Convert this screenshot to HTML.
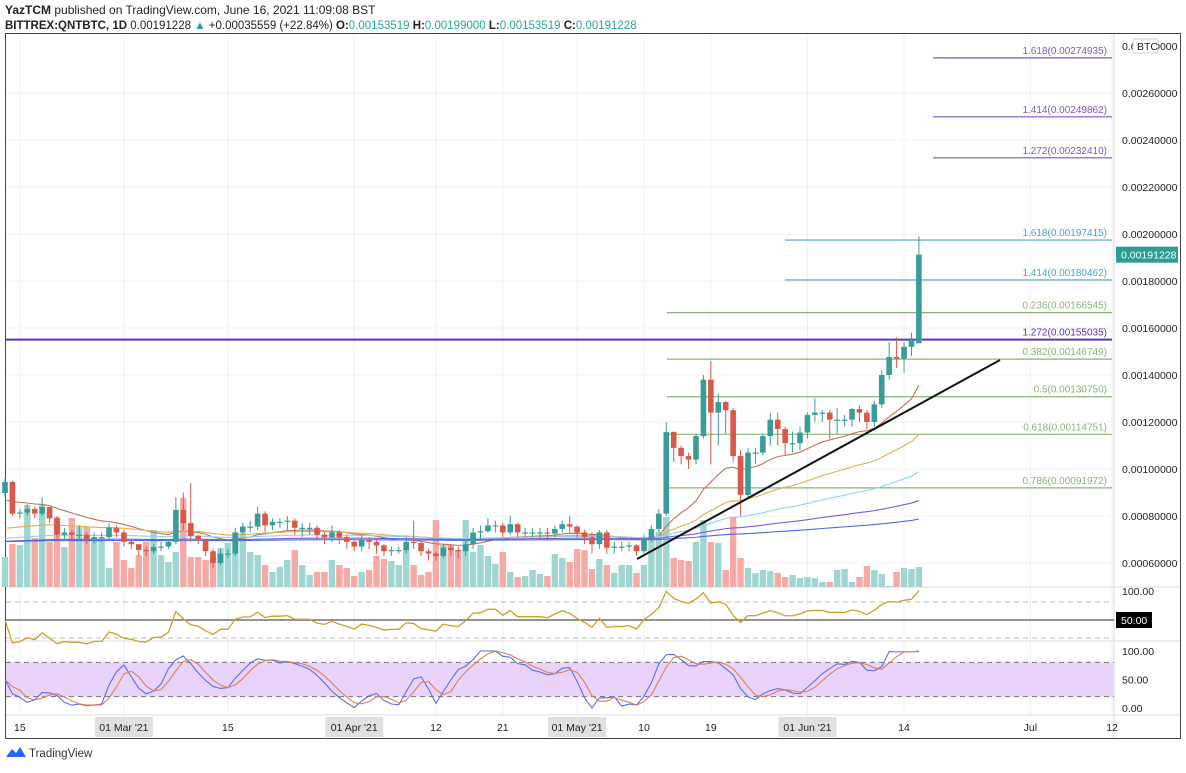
<!DOCTYPE html>
<html><head><meta charset="utf-8">
<style>
body{margin:0;background:#fff;width:1186px;height:768px;overflow:hidden;font-family:"Liberation Sans",sans-serif}
svg text{font-family:"Liberation Sans",sans-serif}
</style></head>
<body>
<svg id="chart" width="1186" height="768" xmlns="http://www.w3.org/2000/svg">
<rect width="1186" height="768" fill="#fff"/>
<text x="5" y="14" font-size="12" fill="#222"><tspan font-weight="bold">YazTCM</tspan> published on TradingView.com, June 16, 2021 11:09:08 BST</text>
<text x="5" y="29" font-size="11.5" fill="#222"><tspan font-weight="bold">BITTREX:QNTBTC, 1D</tspan> 0.00191228 <tspan fill="#26a69a">▲</tspan> +0.00035559 (+22.84%) <tspan font-weight="bold">O:</tspan><tspan fill="#26a69a">0.00153519</tspan> <tspan font-weight="bold">H:</tspan><tspan fill="#26a69a">0.00199000</tspan> <tspan font-weight="bold">L:</tspan><tspan fill="#26a69a">0.00153519</tspan> <tspan font-weight="bold">C:</tspan><tspan fill="#26a69a">0.00191228</tspan></text>
<rect x="5.5" y="33.5" width="1175" height="705" fill="none" stroke="#444" stroke-width="1"/>
<g id="grid"></g>
<g id="vol"></g>
<g id="fibs"></g>
<g id="mas"></g>
<g id="candles"></g>
<g id="ind"></g>
<g id="axes"></g>
<g>
<path d="M6 757 L12 749 L16 753 L20 747 L26 757 Z" fill="#2962ff"/>
<text x="29" y="757" font-size="11.5" fill="#333">TradingView</text>
</g>
</svg>
<script>
// price values in 1e-5 BTC
const closes=[94.5,81,81.5,83,81,83.8,79,72,73,72,72,70,71,71,75,73,69,68,65.5,65,66.8,67,69,82.6,77,71.5,70,65,60,64,64,73,75.5,75.5,81,76,77.5,77.5,78,75,75,75,72,71,73,71,69,67,70,69,67.5,65,65.5,65.5,69,68.5,65,64,63,66.5,65.5,65,68,73,73.5,76,76,73,76.5,73,73,73,73,72.5,74.5,76.5,75.5,73,71,68,73,66.5,67,67,67.5,65,70.5,74.5,81,115.7,109,105.5,104,114,138,124,128.5,125,105.5,89,107,107,114,121,117,111,111,115.5,123,124,124,121,121,121,125.5,124,120,127.5,140,147.7,147,152,155,191.2];
const firstOpen=89.8;
const lastOpen=153.5;
const highs=[96,95,83,85,84,88,84,80,75,74,76,73,73,73,77,76,74,70,68,67,68,69,70,88,90,94,72,70,66,66,66,75,77,78,84,82,79,79,80,79,77,77,76,73,76,74,72,70,72,71,70,68,67,67,71,78,69,66,65,68,68,67,70,75,76,79,78,77,80,77,75,75,75,75,76,78,80,76,74,73,74,74,69,69,69,68,72,76,83,120,116,110,107,115,140,146,132,129,126,108,109,109,115,124,124,118,116,118,124,130,125,125,126,123,126,127,125,129,142,154,156,154,158,199];
const lows=[88,80,79,80,79,80,77,70,70,70,70,68,68,69,70,71,67,66,63,63,64,65,66,68,74,69,68,63,58,59,62,63,72,73,74,73,74,75,74,72,71,72,70,68,69,68,66,65,65,66,64,63,63,64,64,66,63,61,61,62,63,62,63,66,70,73,73,71,72,71,71,71,70,70,71,73,73,71,68,64,66,64,64,65,65,63,64,69,73,80,103,102,100,102,113,102,110,115,103,80,88,102,106,110,110,106,107,108,113,120,120,113,115,118,118,120,117,118,126,138,143,141,148,153.5];
const volumes=[30,43,42,82,49,82,45,70,40,69,60,60,47,47,19,45,27,19,32,45,57,32,25,35,89,30,30,27,29,39,44,54,54,35,32,22,15,20,27,37,22,12,15,15,27,22,19,11,15,17,31,28,26,22,39,22,12,15,67,42,42,37,67,35,42,31,23,35,15,10,11,17,13,11,33,29,25,38,37,18,28,22,14,22,22,14,22,49,55,70,29,27,26,45,67,45,44,17,70,29,19,14,17,16,14,10,12,9,10,9,5,5,17,18,5,10,21,17,13,1,15,19,18,20];
const priceTicks=[260,240,220,200,180,160,140,120,100,80,60];
const priceTickLabels=["0.00260000","0.00240000","0.00220000","0.00200000","0.00180000","0.00160000","0.00140000","0.00120000","0.00100000","0.00080000","0.00060000"];
const dateTickDays=[-14,0,14,31,42,51,61,70,79,92,105,122,133];
const dateTickLabels=["15","01 Mar '21","15","01 Apr '21","12","21","01 May '21","10","19","01 Jun '21","14","Jul","12"];
const fibLevels=[274.935,249.862,232.410,197.415,180.462,166.545,146.749,130.750,114.751,91.972];
const fibLabels=["1.618(0.00274935)","1.414(0.00249862)","1.272(0.00232410)","1.618(0.00197415)","1.414(0.00180462)","0.236(0.00166545)","0.382(0.00146749)","0.5(0.00130750)","0.618(0.00114751)","0.786(0.00091972)"];
const fibGroups=[0,0,0,1,1,2,2,2,2,2];
const resistance=155.035;
const stochTicks=[100,50,0];

const NS="http://www.w3.org/2000/svg";
const X0=5, DX=7.43, FIRST_DAY=-16;
const xi=i=>X0+i*DX;
const xd=d=>X0+(d-FIRST_DAY)*DX;
const yp=p=>234+(200-p)*2.35;
const yv=v=>587-v;
const yr=r=>620-(r-50)*0.9;
const ys=s=>708-s*0.57;
function mk(tag,attrs,parent){const e=document.createElementNS(NS,tag);for(const k in attrs)e.setAttribute(k,attrs[k]);document.getElementById(parent).appendChild(e);return e;}
const opens=closes.map((c,i)=>i===0?firstOpen:(i===closes.length-1?lastOpen:closes[i-1]));

// grid
dateTickDays.forEach(d=>{const l=mk('line',{x1:xd(d),x2:xd(d),y1:34,y2:715,stroke:'#eef0f4','stroke-width':1},'grid');

});
priceTicks.forEach(p=>{const l=mk('line',{x1:6,x2:1114,y1:yp(p),y2:yp(p),stroke:'#eef0f4','stroke-width':1},'grid');

});
[[587,'#ddd'],[641,'#ddd'],[715,'#ddd']].forEach(s=>{const l=mk('line',{x1:6,x2:1180,y1:s[0],y2:s[0],stroke:s[1]},'grid');

});
const ax=mk('line',{x1:1114,x2:1114,y1:34,y2:738,stroke:'#ddd'},'grid');



// volume
volumes.forEach((v,i)=>{const up=closes[i]>=opens[i];
const r=mk('rect',{x:xi(i)-3.2,y:yv(v),width:6.4,height:v,fill:up?'#9fd6d1':'#f5aaa7'},'vol');

});

// fibs
const fibColors=['#7e57c2','#4fa3c7','#8ab37a'];
const fibStart=[933,785,667];
fibLevels.forEach((f,k)=>{const g=fibGroups[k];
const l=mk('line',{x1:fibStart[g],x2:1112,y1:yp(f),y2:yp(f),stroke:fibColors[g],'stroke-width':1.2},'fibs');


const t=mk('text',{x:1107,y:yp(f)-4,'font-size':10,'text-anchor':'end',fill:fibColors[g]},'fibs');t.textContent=fibLabels[k];

});
const rl=mk('line',{x1:6,x2:1112,y1:yp(resistance),y2:yp(resistance),stroke:'#5e35b1','stroke-width':2},'fibs');


const rt=mk('text',{x:1107,y:yp(resistance)-4,'font-size':10,'text-anchor':'end',fill:'#5e35b1'},'fibs');rt.textContent='1.272(0.00155035)';



// moving averages
function ema(arr,n,seed){let e=seed;return arr.map(v=>{e=e+(v-e)*2/(n+1);return e;});}
const maDefs=[[20,86,'#c0705a'],[50,74,'#e0b050'],[100,70,'#8fd3ee'],[200,69,'#7a5ce0'],[400,69,'#4a6fd8']];
maDefs.forEach(m=>{const a=ema(closes,m[0],m[1]);
const p=mk('polyline',{points:a.map((v,i)=>xi(i)+','+yp(v)).join(' '),fill:'none',stroke:m[2],'stroke-width':1.1},'mas');

});

// candles
closes.forEach((c,i)=>{const o=opens[i];const up=c>=o;const col=up?'#3a9c99':'#d9574b';
const w=mk('line',{x1:xi(i),x2:xi(i),y1:yp(highs[i]),y2:yp(lows[i]),stroke:col,'stroke-width':1},'candles');


const top=yp(Math.max(o,c)),bot=yp(Math.min(o,c));
const b=mk('rect',{x:xi(i)-2.8,y:top,width:5.6,height:Math.max(1.2,bot-top),fill:col},'candles');

});
const tl=mk('line',{x1:637,y1:559,x2:1000,y2:360,stroke:'#111','stroke-width':2},'candles');



// RSI
const rsi=[];let ag=0.5,al=0.5;
closes.forEach((c,i)=>{if(i===0){rsi.push(50);return;}const d=c-closes[i-1];ag=(ag*13+Math.max(d,0))/14;al=(al*13+Math.max(-d,0))/14;rsi.push(100-100/(1+ag/al));});
[[70,1],[30,1]].forEach(r=>{const l=mk('line',{x1:6,x2:1114,y1:yr(r[0]),y2:yr(r[0]),stroke:'#bbb','stroke-dasharray':'5,4'},'ind');

});
const r50=mk('line',{x1:6,x2:1114,y1:yr(50),y2:yr(50),stroke:'#555','stroke-width':1.2},'ind');


const rp=mk('polyline',{points:rsi.map((v,i)=>xi(i)+','+yr(v)).join(' '),fill:'none',stroke:'#c9a227','stroke-width':1.3},'ind');



// Stoch RSI
const band=mk('rect',{x:6,y:ys(80),width:1108,height:ys(20)-ys(80),fill:'#ead3fb'},'ind');


[80,20].forEach(v=>{const l=mk('line',{x1:6,x2:1114,y1:ys(v),y2:ys(v),stroke:'#777','stroke-dasharray':'5,4'},'ind');

});
const st=rsi.map((v,i)=>{const w=rsi.slice(Math.max(0,i-13),i+1);const mn=Math.min(...w),mx=Math.max(...w);return mx-mn<1e-6?50:(v-mn)/(mx-mn)*100;});
const sma=(a,n)=>a.map((v,i)=>{const w=a.slice(Math.max(0,i-n+1),i+1);return w.reduce((s,x)=>s+x,0)/w.length;});
const K=sma(st,3),D=sma(K,3);
[[K,'#5b6cf0','stoch-k-line'],[D,'#d9824f','stoch-d-line']].forEach(s=>{const p=mk('polyline',{points:s[0].map((v,i)=>xi(i)+','+ys(v)).join(' '),fill:'none',stroke:s[1],'stroke-width':1.1},'ind');

});

// axes labels
priceTicks.forEach((p,k)=>{const t=mk('text',{x:1122,y:yp(p)+4,'font-size':10.5,fill:'#222'},'axes');t.textContent=priceTickLabels[k];

});
const topT=mk('text',{x:1122,y:yp(280)+4,'font-size':10.5,fill:'#222'},'axes');topT.textContent='0.00280000';


const btc=mk('rect',{x:1133,y:yp(280)-7,width:25,height:14,rx:2,fill:'#fff',stroke:'#ccc'},'axes');


const btcT=mk('text',{x:1137,y:yp(280)+4,'font-size':10.5,fill:'#222'},'axes');btcT.textContent='BTC';


const last=closes[closes.length-1];
const cb=mk('rect',{x:1116,y:yp(last)-8,width:62,height:16,fill:'#2a9d94'},'axes');


const ct=mk('text',{x:1121,y:yp(last)+4,'font-size':10.5,fill:'#fff'},'axes');ct.textContent='0.00191228';


const r100=mk('text',{x:1122,y:595,'font-size':10.5,fill:'#222'},'axes');r100.textContent='100.00';


const rb=mk('rect',{x:1116,y:yr(50)-8,width:36,height:16,fill:'#000'},'axes');


const rbt=mk('text',{x:1121,y:yr(50)+4,'font-size':10.5,fill:'#fff'},'axes');rbt.textContent='50.00';


stochTicks.forEach(v=>{const t=mk('text',{x:1122,y:ys(v)+4,'font-size':10.5,fill:'#222'},'axes');t.textContent=v.toFixed(2);

});
dateTickDays.forEach((d,k)=>{const lab=dateTickLabels[k];const x=xd(d);
if(lab.indexOf("'")>0){const bg=mk('rect',{x:x-29,y:717,width:58,height:20,fill:'#e0e0e0'},'axes');

}
const t=mk('text',{x:x,y:731,'font-size':10.5,'text-anchor':'middle',fill:'#222'},'axes');t.textContent=lab;

});
</script>
</body></html>
